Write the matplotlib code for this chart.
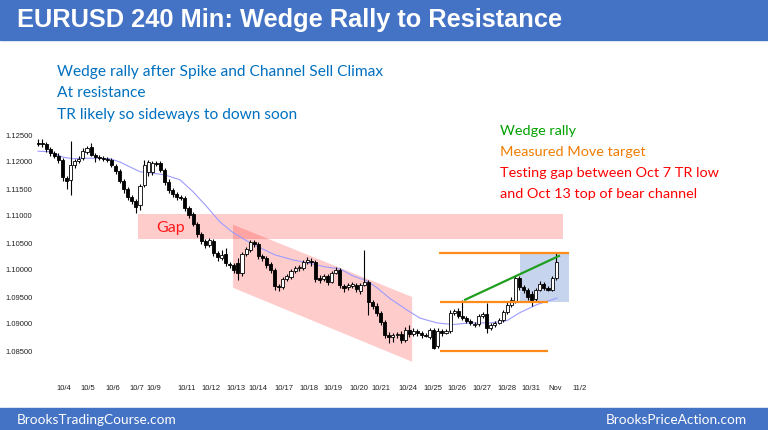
import numpy as np
import matplotlib
matplotlib.use('Agg')
import matplotlib.pyplot as plt
from matplotlib.patches import Rectangle, Polygon

# EURUSD 240 min bars (open, high, low, close)
opens = [1.1235,1.1235,1.1233,1.1224,1.1217,1.1211,1.1204,1.1170,1.1167,1.1195,
         1.1202,1.1207,1.1219,1.1228,1.1213,1.1209,1.1207,1.1206,1.1204,1.1193,
         1.1183,1.1165,1.1150,1.1135,1.1128,1.1121,1.1158,1.1182,1.1182,1.1198,
         1.1198,1.1185,1.1163,1.1148,1.1141,1.1135,1.1133,1.1115,1.1104,1.1085,
         1.1067,1.1054,1.1046,1.1054,1.1032,1.1022,1.1030,1.1011,1.1010,1.1013,
         1.0995,1.1030,1.1037,1.1052,1.1048,1.1026,1.1022,1.1011,1.1000,1.0971,
         1.0969,1.0984,1.0987,1.0998,1.1004,1.1004,1.1015,1.1017,1.1015,1.0985,
         1.0984,1.0989,1.0978,1.0995,1.1000,1.0971,1.0969,1.0971,1.0973,1.0961,
         1.0973,1.0978,1.0941,1.0934,1.0921,1.0904,1.0880,1.0876,1.0880,1.0882,
         1.0871,1.0889,1.0882,1.0887,1.0884,1.0880,1.0876,1.0889,1.0859,1.0887,
         1.0884,1.0887,1.0921,1.0924,1.0915,1.0911,1.0906,1.0899,1.0900,1.0915,
         1.0919,1.0893,1.0898,1.0902,1.0908,1.0922,1.0935,1.0943,1.0985,1.0969,
         1.0963,1.0956,1.0947,1.0963,1.0974,1.0967,1.0963,1.0985]
highs = [1.1243,1.1243,1.1237,1.1228,1.1220,1.1217,1.1207,1.1174,1.1239,1.1206,
         1.1211,1.1226,1.1230,1.1235,1.1217,1.1213,1.1211,1.1209,1.1207,1.1196,
         1.1187,1.1169,1.1154,1.1139,1.1132,1.1160,1.1204,1.1204,1.1202,1.1202,
         1.1202,1.1189,1.1169,1.1152,1.1145,1.1139,1.1137,1.1119,1.1108,1.1089,
         1.1071,1.1058,1.1059,1.1058,1.1035,1.1037,1.1041,1.1015,1.1013,1.1022,
         1.1034,1.1043,1.1056,1.1056,1.1052,1.1030,1.1026,1.1015,1.1004,1.0974,
         1.0987,1.0993,1.1002,1.1008,1.1010,1.1019,1.1024,1.1022,1.1019,1.0991,
         1.0993,1.0993,1.0998,1.1006,1.1004,1.0974,1.0976,1.0978,1.0976,1.0976,
         1.1037,1.0982,1.0945,1.0939,1.0924,1.0908,1.0886,1.0884,1.0886,1.0887,
         1.0895,1.0898,1.0893,1.0891,1.0887,1.0884,1.0893,1.0893,1.0893,1.0891,
         1.0891,1.0926,1.0928,1.0930,1.0945,1.0915,1.0910,1.0904,1.0919,1.0922,
         1.0939,1.0902,1.0906,1.0911,1.0926,1.0941,1.0950,1.0989,1.0989,1.0973,
         1.0967,1.0961,1.0967,1.0980,1.0978,1.0971,1.0989,1.1032]
lows = [1.1230,1.1228,1.1219,1.1211,1.1207,1.1198,1.1165,1.1150,1.1139,1.1189,
        1.1198,1.1204,1.1215,1.1211,1.1200,1.1204,1.1202,1.1200,1.1191,1.1178,
        1.1161,1.1143,1.1130,1.1122,1.1106,1.1111,1.1154,1.1174,1.1176,1.1193,
        1.1182,1.1158,1.1143,1.1135,1.1130,1.1130,1.1110,1.1096,1.1082,1.1061,
        1.1048,1.1041,1.1043,1.1026,1.1017,1.1019,1.1008,1.1004,1.0995,1.0982,
        1.0989,1.1026,1.1034,1.1043,1.1021,1.1017,1.1004,1.0995,1.0963,1.0961,
        1.0965,1.0980,1.0984,1.0995,1.0998,1.1000,1.1011,1.1008,1.0978,1.0976,
        1.0980,1.0973,1.0976,1.0993,1.0967,1.0960,1.0963,1.0967,1.0960,1.0956,
        1.0971,1.0917,1.0928,1.0915,1.0899,1.0874,1.0865,1.0867,1.0874,1.0865,
        1.0867,1.0876,1.0878,1.0878,1.0874,1.0876,1.0873,1.0854,1.0856,1.0878,
        1.0882,1.0884,1.0917,1.0911,1.0908,1.0902,1.0899,1.0895,1.0897,1.0911,
        1.0884,1.0889,1.0895,1.0900,1.0904,1.0919,1.0932,1.0939,1.0963,1.0958,
        1.0945,1.0934,1.0941,1.0961,1.0963,1.0961,1.0961,1.0982]
closes = [1.1233,1.1233,1.1224,1.1217,1.1211,1.1204,1.1172,1.1165,1.1195,1.1202,
          1.1206,1.1220,1.1226,1.1213,1.1209,1.1207,1.1206,1.1204,1.1195,1.1183,
          1.1165,1.1150,1.1135,1.1128,1.1117,1.1156,1.1195,1.1200,1.1198,1.1196,
          1.1185,1.1163,1.1148,1.1141,1.1135,1.1133,1.1115,1.1102,1.1085,1.1067,
          1.1054,1.1046,1.1056,1.1032,1.1024,1.1028,1.1013,1.1010,1.1000,1.0995,
          1.1030,1.1039,1.1052,1.1048,1.1026,1.1022,1.1010,1.1000,1.0971,1.0969,
          1.0984,1.0989,1.0998,1.1004,1.1006,1.1015,1.1019,1.1015,1.0984,1.0982,
          1.0989,1.0978,1.0995,1.1000,1.0973,1.0967,1.0973,1.0974,1.0965,1.0973,
          1.0978,1.0941,1.0934,1.0921,1.0904,1.0880,1.0876,1.0880,1.0882,1.0871,
          1.0889,1.0882,1.0887,1.0884,1.0880,1.0878,1.0889,1.0856,1.0887,1.0884,
          1.0887,1.0921,1.0924,1.0915,1.0911,1.0906,1.0902,1.0900,1.0915,1.0919,
          1.0893,1.0898,1.0902,1.0908,1.0922,1.0935,1.0945,1.0985,1.0969,1.0963,
          1.0950,1.0945,1.0963,1.0974,1.0967,1.0963,1.0985,1.1015]

# moving average as drawn (bar position, price)
ma_x = [0, 2.9, 6.1, 8.6, 11.0, 14.5, 17.6, 20.1, 22.5, 25.0, 27.5, 31.1, 34.8, 38.0,
        41.4, 44.6, 47.5, 50.7, 53.9, 58.1, 62.3, 66.2, 70.3, 74.0, 77.2, 80.6, 83.1,
        86.3, 90.4, 93.6, 97.8, 101.7, 105.9, 110.8, 114.9, 118.1, 122.3, 127.2]
ma_y = [1.1220, 1.1219, 1.1209, 1.1206, 1.1207, 1.1207, 1.1206, 1.1200, 1.1191, 1.1182,
        1.1180, 1.1176, 1.1167, 1.1145, 1.1117, 1.1089, 1.1071, 1.1056, 1.1043, 1.1028,
        1.1019, 1.1013, 1.1006, 1.1002, 1.0989, 1.0980, 1.0967, 1.0947, 1.0926, 1.0911,
        1.0902, 1.0899, 1.0902, 1.0902, 1.0906, 1.0921, 1.0936, 1.0948]

date_pos = [6.4, 12.3, 18.4, 24.3, 28.4, 36.5, 42.4, 48.5, 53.9, 60.3, 66.4, 72.3,
            78.7, 84.1, 90.7, 96.8, 102.7, 108.8, 114.9, 120.8, 126.7, 132.8]
date_labels = ['10/4', '10/5', '10/6', '10/7', '10/9', '10/11', '10/12', '10/13', '10/14',
               '10/17', '10/18', '10/19', '10/20', '10/21', '10/24', '10/25', '10/26',
               '10/27', '10/28', '10/31', 'Nov', '11/2']
price_ticks = [1.085, 1.090, 1.095, 1.100, 1.105, 1.110, 1.115, 1.120, 1.125]

# drawn levels
gap_x = (24.4, 128.7)
gap_y = (1.1058, 1.1104)
channel = [(47.8, 1.1084), (91.7, 1.0950), (91.7, 1.0830), (47.8, 1.0967)]
mm_top, mm_mid, mm_low = 1.1032, 1.0941, 1.0850
wedge = ([104.7, 127.7], [1.0945, 1.1026])
box_x = (118.1, 130.1)

opens, highs, lows, closes = map(np.array, (opens, highs, lows, closes))

W, H = 768, 430
plt.rcParams['font.family'] = ['Lato', 'DejaVu Sans']
fig = plt.figure(figsize=(W / 100, H / 100), dpi=100)

def fx(px):
    return px / W

def fy(py):
    return 1 - py / H

# title and footer bands
fig.patches.append(Rectangle((0, fy(40)), 1, 40 / H, transform=fig.transFigure,
                             color='#4472c4', zorder=0))
fig.patches.append(Rectangle((0, 0), 1, fy(408), transform=fig.transFigure,
                             color='#4472c4', zorder=0))
fig.text(fx(17), fy(27), 'EURUSD 240 Min: Wedge Rally to Resistance', color='white',
         fontsize=18.3, fontweight='bold', family='Liberation Sans', va='baseline')
fig.text(fx(17), fy(420), 'BrooksTradingCourse.com', color='white', fontsize=9.8, va='center')
fig.text(fx(747), fy(420), 'BrooksPriceAction.com', color='white', fontsize=9.8,
         va='center', ha='right')

blue_txt = ['Wedge rally after Spike and Channel Sell Climax', 'At resistance',
            'TR likely so sideways to down soon']
for t, yy in zip(blue_txt, [72, 93, 115]):
    fig.text(fx(57), fy(yy), t, color='#0070c0', fontsize=11.2, va='center')

right_txt = [('Wedge rally', '#00a000'), ('Measured Move target', '#f07c00'),
             ('Testing gap between Oct 7 TR low', '#ff0000'),
             ('and Oct 13 top of bear channel', '#ff0000')]
for (t, c), yy in zip(right_txt, [131, 152, 173, 194]):
    fig.text(fx(500), fy(yy), t, color=c, fontsize=10.4, va='center')

ax = fig.add_axes([fx(36), fy(366), fx(600) - fx(36), fy(120) - fy(366)])
ax.set_facecolor('none')
for s in ax.spines.values():
    s.set_visible(False)

# zones
ax.add_patch(Rectangle((gap_x[0], gap_y[0]), gap_x[1] - gap_x[0], gap_y[1] - gap_y[0],
                       facecolor='red', alpha=0.2, lw=0, zorder=1))
ax.add_patch(Polygon(channel, closed=True, facecolor='red', alpha=0.2, lw=0, zorder=1))
ax.add_patch(Rectangle((box_x[0], mm_mid), box_x[1] - box_x[0], mm_top - mm_mid,
                       facecolor='#4472c4', alpha=0.3, lw=0, zorder=1))
ax.text(32.4, 1.1078, 'Gap', color='#ff1a1a', fontsize=11.5, ha='center', va='center', zorder=2)

ax.plot(ma_x, ma_y, color='#9c9cff', lw=0.8, zorder=2)

# candles
idx = np.arange(len(closes))
up = closes >= opens
ax.vlines(idx, lows, highs, color='black', lw=0.8, zorder=3)
body_lo = np.minimum(opens, closes)
body_h = np.maximum(np.abs(closes - opens), 0.00008)
ax.bar(idx[up], body_h[up], bottom=body_lo[up], width=0.75, facecolor='white',
       edgecolor='black', lw=0.6, zorder=4)
ax.bar(idx[~up], body_h[~up], bottom=body_lo[~up], width=0.75, facecolor='black',
       edgecolor='black', lw=0.6, zorder=4)

# measured move lines and wedge
ax.hlines(mm_top, 98.3, 130.1, color='#ff8c1a', lw=1.6, zorder=5)
ax.hlines([mm_mid, mm_low], 98.5, 125.0, color='#ff8c1a', lw=1.6, zorder=5)
ax.plot(wedge[0], wedge[1], color='#1f9e1f', lw=1.6, zorder=5)

ax.set_xlim(-0.5, 137.75)
ax.set_ylim(1.125 - 231 / 5400, 1.125 + 15 / 5400)
ax.set_yticks(price_ticks)
ax.set_yticklabels(['%.5f' % p for p in price_ticks])
ax.set_xticks(date_pos)
ax.set_xticklabels(date_labels)
ax.tick_params(axis='y', length=0, pad=2.5, labelsize=5.5, labelcolor='#222222')
ax.tick_params(axis='x', length=0, pad=14, labelsize=5.5, labelcolor='#222222')
for lab in ax.get_xticklabels() + ax.get_yticklabels():
    lab.set_family('Liberation Sans')

fig.savefig('out.png', dpi=100)
